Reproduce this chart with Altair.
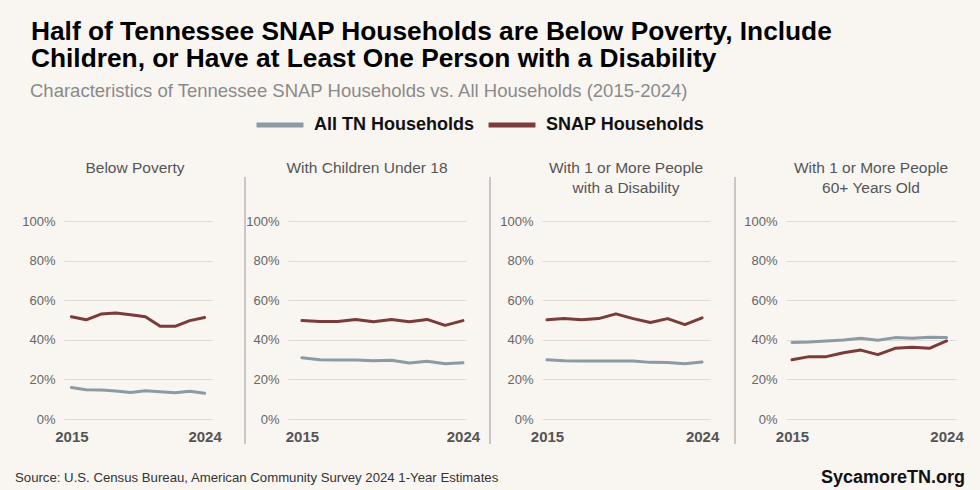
import altair as alt
import pandas as pd

# ---- data -------------------------------------------------------------
years = list(range(2015, 2025))
series_names = ["All TN Households", "SNAP Households"]
series_colors = ["#8c9aa5", "#7a3b39"]

poverty_all = [15.9, 14.8, 14.7, 14.2, 13.4, 14.3, 13.8, 13.3, 14.0, 13.0]
poverty_snap = [51.6, 50.1, 53.0, 53.5, 52.6, 51.6, 46.8, 46.8, 49.7, 51.3]
children_all = [30.9, 29.9, 29.8, 29.8, 29.4, 29.7, 28.3, 29.2, 27.9, 28.4]
children_snap = [49.7, 49.2, 49.2, 50.3, 49.1, 50.3, 49.1, 50.3, 47.3, 49.7]
disability_all = [29.9, 29.4, 29.3, 29.3, 29.3, 29.3, 28.6, 28.5, 27.9, 28.8]
disability_snap = [50.1, 50.7, 50.1, 50.7, 53.1, 50.7, 48.7, 50.7, 47.7, 51.1]
older_all = [38.6, 38.9, 39.4, 39.9, 40.8, 39.8, 41.1, 40.8, 41.3, 41.1]
older_snap = [29.9, 31.5, 31.5, 33.5, 34.8, 32.5, 35.7, 36.2, 35.7, 39.4]

panel_titles = [
    ["Below Poverty"],
    ["With Children Under 18"],
    ["With 1 or More People", "with a Disability"],
    ["With 1 or More People", "60+ Years Old"],
]
y_ticks = [0, 20, 40, 60, 80, 100]
x_ticks = [2015, 2024]

title_lines = [
    "Half of Tennessee SNAP Households are Below Poverty, Include",
    "Children, or Have at Least One Person with a Disability",
]
subtitle = "Characteristics of Tennessee SNAP Households vs. All Households (2015-2024)"
source_note = "Source: U.S. Census Bureau, American Community Survey 2024 1-Year Estimates"
brand = "SycamoreTN.org"

FONT = "Liberation Sans"
BG = "#f9f5f1"
one_row = pd.DataFrame({"k": [0]})


def panel(all_vals, snap_vals, width, x_domain, title, title_x, sep_x=None):
    df = pd.DataFrame({
        "year": years * 2,
        "share": all_vals + snap_vals,
        "series": [series_names[0]] * len(years) + [series_names[1]] * len(years),
    })
    lines = alt.Chart(df).mark_line(
        strokeWidth=3, strokeCap="round", strokeJoin="round"
    ).encode(
        x=alt.X("year:Q",
                scale=alt.Scale(domain=x_domain, nice=False, zero=False),
                axis=alt.Axis(values=x_ticks, format="d", title=None, grid=False,
                              domain=False, ticks=False, labelFontWeight="bold",
                              labelFontSize=15, labelColor="#555555", labelPadding=10,
                              labelFont=FONT)),
        y=alt.Y("share:Q",
                scale=alt.Scale(domain=[0, 100], nice=False),
                axis=alt.Axis(values=y_ticks, labelExpr="datum.value + '%'", title=None,
                              domain=False, ticks=False, gridColor="#dddbd8",
                              gridWidth=1, labelColor="#666666", labelFontSize=13,
                              labelPadding=9, labelFont=FONT)),
        color=alt.Color("series:N",
                        scale=alt.Scale(domain=series_names, range=series_colors),
                        legend=alt.Legend(title=None, orient="none", direction="horizontal",
                                          legendX=190, legendY=-122,
                                          symbolType="stroke", symbolStrokeWidth=5,
                                          symbolSize=2200, labelFontSize=18,
                                          labelFontWeight="bold", labelFont=FONT,
                                          labelColor="#111111", labelOffset=8,
                                          labelLimit=400, columnPadding=3)),
    )
    head = alt.Chart(one_row).mark_text(
        text=title, font=FONT, fontSize=15.5, color="#555555", align="center",
        baseline="alphabetic", lineHeight=19.5,
    ).encode(x=alt.value(title_x), y=alt.value(-48))
    layers = [lines, head]
    if sep_x is not None:
        sep = alt.Chart(one_row).mark_rule(color="#9a9a9a", strokeWidth=1).encode(
            x=alt.value(sep_x), y=alt.value(-44), y2=alt.value(223))
        layers.append(sep)
    return layers


p1 = panel(poverty_all, poverty_snap, 148, [2014.5, 2024.5], panel_titles[0], 71, 181)

# page-level text lives in the first panel's layer
anchor = alt.Chart(one_row).mark_rule(strokeOpacity=0, strokeWidth=0).encode(
    x=alt.value(-64), x2=alt.value(916), y=alt.value(-221), y2=alt.value(269))
main_title = alt.Chart(one_row).mark_text(
    text=title_lines, font=FONT, fontSize=26.3, fontWeight="bold", color="#000000",
    align="left", baseline="alphabetic", lineHeight=27,
).encode(x=alt.value(-33), y=alt.value(-181))
sub_title = alt.Chart(one_row).mark_text(
    text=subtitle, font=FONT, fontSize=18.5, color="#8a8a8a", align="left",
    baseline="alphabetic",
).encode(x=alt.value(-34), y=alt.value(-124))
source_text = alt.Chart(one_row).mark_text(
    text=source_note, font=FONT, fontSize=13.2, color="#333333", align="left",
    baseline="middle",
).encode(x=alt.value(-49), y=alt.value(257))
brand_text = alt.Chart(one_row).mark_text(
    text=brand, font=FONT, fontSize=18, fontWeight="bold", color="#111111",
    align="right", baseline="middle",
).encode(x=alt.value(901), y=alt.value(257))

c1 = alt.layer(anchor, *p1, main_title, sub_title, source_text, brand_text).properties(
    width=148, height=198)
c2 = alt.layer(*panel(children_all, children_snap, 178, [2014.22, 2024.17],
                      panel_titles[1], 79, 202)).properties(width=178, height=198)
c3 = alt.layer(*panel(disability_all, disability_snap, 168, [2014.71, 2024.46],
                      panel_titles[2], 84, 193)).properties(width=168, height=198)
c4 = alt.layer(*panel(older_all, older_snap, 170, [2014.65, 2024.55],
                      panel_titles[3], 85)).properties(width=170, height=198)

chart = alt.hconcat(c1, c2, c3, c4, spacing=76, bounds="flush").properties(
    background=BG, padding=0
).configure_view(stroke=None).configure_axis(labelFont=FONT)

chart.save("out.html", embed_options={"renderer": "svg", "actions": False})
